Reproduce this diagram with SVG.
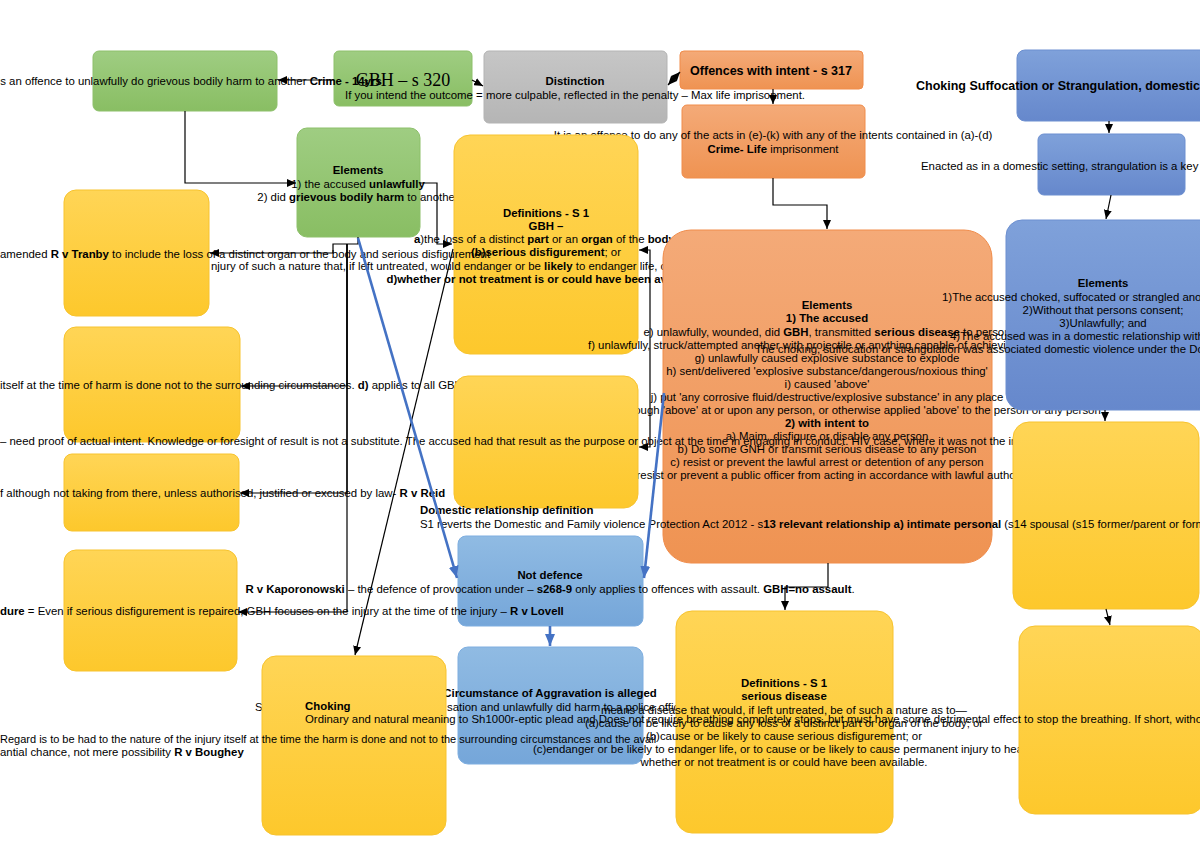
<svg xmlns="http://www.w3.org/2000/svg" width="1200" height="848" viewBox="0 0 1200 848">
<defs>
<linearGradient id="gG" x1="0" y1="0" x2="0" y2="1"><stop offset="0" stop-color="#9fcd82"/><stop offset="1" stop-color="#89be63"/></linearGradient>
<linearGradient id="gO" x1="0" y1="0" x2="0" y2="1"><stop offset="0" stop-color="#f4aa78"/><stop offset="1" stop-color="#ef9352"/></linearGradient>
<linearGradient id="gY" x1="0" y1="0" x2="0" y2="1"><stop offset="0" stop-color="#ffd556"/><stop offset="1" stop-color="#fdc82c"/></linearGradient>
<linearGradient id="gB" x1="0" y1="0" x2="0" y2="1"><stop offset="0" stop-color="#7fa1da"/><stop offset="1" stop-color="#6688cc"/></linearGradient>
<linearGradient id="gLB" x1="0" y1="0" x2="0" y2="1"><stop offset="0" stop-color="#90bbe3"/><stop offset="1" stop-color="#75a6d9"/></linearGradient>
<linearGradient id="gGr" x1="0" y1="0" x2="0" y2="1"><stop offset="0" stop-color="#c6c6c6"/><stop offset="1" stop-color="#b5b5b5"/></linearGradient>
<marker id="ah" viewBox="0 0 9 8" refX="9" refY="4" markerWidth="9" markerHeight="8" markerUnits="userSpaceOnUse" orient="auto-start-reverse"><path d="M0,0 L9,4 L0,8 z" fill="#000"/></marker>
<marker id="bh" viewBox="0 0 12 10" refX="12" refY="5" markerWidth="12" markerHeight="10" markerUnits="userSpaceOnUse" orient="auto-start-reverse"><path d="M0,0 L12,5 L0,10 z" fill="#4472c4"/></marker>
</defs>
<style>
.t{font-family:"Liberation Sans",Arial,sans-serif;font-size:11.4px;fill:#000}
.s{font-size:11px}
.m{text-anchor:middle}
.b{font-weight:bold}
.h{font-size:12.5px;font-weight:bold}
.g{fill:url(#gG);stroke:#8dc06b}
.o{fill:url(#gO);stroke:#f08c4b}
.y{fill:url(#gY);stroke:#f7c32e}
.bb{fill:url(#gB);stroke:#6c8fd0}
.lb{fill:url(#gLB);stroke:#7eaee0}
.gr{fill:url(#gGr);stroke:#b3b3b3}
.con{fill:none;stroke:#000;stroke-width:1.2}
.bl{fill:none;stroke:#4472c4;stroke-width:2.6}
</style>
<rect width="1200" height="848" fill="#fff"/>

<g id="node-gbh-s320">
<rect class="g" x="334" y="51" width="138" height="55" rx="5"/>
<text x="403" y="86" text-anchor="middle" style="font-family:'Liberation Serif','Times New Roman',serif;font-size:18px">GBH – s 320</text>
</g>

<g id="node-gbh-offence">
<rect class="g" x="93" y="51" width="184" height="60" rx="6"/>
<text class="t m" x="185" y="85">It is an offence to unlawfully do grievous bodily harm to another <tspan class="b">Crime - 14yrs</tspan></text>
</g>

<g id="node-distinction">
<rect class="gr" x="484" y="51" width="183" height="72" rx="5"/>
<text class="t m b" x="575" y="85">Distinction</text>
<text class="t m" x="575" y="99">If you intend the outcome = more culpable, reflected in the penalty – Max life imprisonment.</text>
</g>

<g id="node-offences-intent">
<rect class="o" x="680" y="51" width="183" height="38" rx="4"/>
<text class="t m h" x="771" y="75">Offences with intent - s 317</text>
</g>

<g id="node-crime-life">
<rect class="o" x="682" y="105" width="183" height="73" rx="5"/>
<text class="t m" x="773" y="139">It is an offence to do any of the acts in (e)-(k) with any of the intents contained in (a)-(d)</text>
<text class="t m" x="773" y="153"><tspan class="b">Crime- Life</tspan> imprisonment</text>
</g>

<g id="node-choking-dv">
<rect class="bb" x="1017" y="50" width="200" height="71" rx="8"/>
<text class="t h" x="916" y="90">Choking Suffocation or Strangulation, domestic</text>
</g>

<g id="node-enacted">
<rect class="bb" x="1038" y="134" width="147" height="61" rx="6"/>
<text class="t" x="921" y="170">Enacted as in a domestic setting, strangulation is a key</text>
</g>

<g id="node-elements-gbh">
<rect class="g" x="297" y="128" width="123" height="109" rx="10"/>
<text class="t m b" x="358" y="174">Elements</text>
<text class="t m" x="358" y="188">1) the accused <tspan class="b">unlawfully</tspan></text>
<text class="t m" x="358" y="201">2) did <tspan class="b">grievous bodily harm</tspan> to another</text>
</g>

<g id="node-def-gbh">
<rect class="y" x="454" y="135" width="184" height="219" rx="16"/>
<text class="t m b" x="546" y="217">Definitions - S 1</text>
<text class="t m b" x="546" y="230">GBH –</text>
<text class="t m" x="546" y="243"><tspan class="b">a</tspan>)the loss of a distinct <tspan class="b">part</tspan> or an <tspan class="b">organ</tspan> of the <tspan class="b">body</tspan>;</text>
<text class="t m" x="546" y="256"><tspan class="b">(b)serious disfigurement</tspan>; or</text>
<text class="t" x="211" y="270">njury of such a nature that, if left untreated, would endanger or be <tspan class="b">likely</tspan> to endanger life, or cause or be likely to cause permanent injury to health</text>
<text class="t m b" x="546" y="283">d)whether or not treatment is or could have been available.</text>
</g>

<g id="node-tranby">
<rect class="y" x="64" y="190" width="145" height="126" rx="12"/>
<text class="t" x="0" y="258">amended <tspan class="b">R v Tranby</tspan> to include the loss of a distinct organ or the body and serious disfigurement</text>
</g>

<g id="node-time-of-harm">
<rect class="y" x="64" y="327" width="176" height="115" rx="12"/>
<text class="t" x="0" y="389">itself at the time of harm is done not to the surrounding circumstances. <tspan class="b">d)</tspan> applies to all GBH</text>
</g>

<g id="node-elements-intent">
<rect class="o" x="663" y="230" width="329" height="333" rx="28"/>
<text class="t m b" x="827" y="309">Elements</text>
<text class="t m b" x="827" y="322">1) The accused</text>
<text class="t m" x="827" y="336">e) unlawfully, wounded, did <tspan class="b">GBH</tspan>, transmitted <tspan class="b">serious disease</tspan> to person</text>
<text class="t" x="588" y="349">f) unlawfully, struck/attempted another with projectile or anything capable of achieving</text>
<text class="t m" x="827" y="362">g) unlawfully caused explosive substance to explode</text>
<text class="t m" x="827" y="375">h) sent/delivered 'explosive substance/dangerous/noxious thing'</text>
<text class="t m" x="827" y="388">i) caused 'above'</text>
<text class="t m" x="827" y="401">j) put 'any corrosive fluid/destructive/explosive substance' in any place</text>
<text class="t m" x="827" y="414">k) cast/threw through 'above' at or upon any person, or otherwise applied 'above' to the person of any person</text>
<text class="t m b" x="827" y="427">2) with intent to</text>
<text class="t m" x="827" y="440">a) Maim, disfigure or disable any person</text>
<text class="t m" x="827" y="453">b) Do some GNH or transmit serious disease to any person</text>
<text class="t m" x="827" y="466">c) resist or prevent the lawful arrest or detention of any person</text>
<text class="t m" x="827" y="479">d) resist or prevent a public officer from acting in accordance with lawful authority</text>
</g>

<g id="node-elements-choking">
<rect class="bb" x="1006" y="220" width="210" height="190" rx="16"/>
<text class="t m b" x="1103" y="287">Elements</text>
<text class="t" x="942" y="301">1)The accused choked, suffocated or strangled another person; and</text>
<text class="t m" x="1103" y="314">2)Without that persons consent;</text>
<text class="t m" x="1103" y="327">3)Unlawfully; and</text>
<text class="t" x="950" y="340">4)The accused was in a domestic relationship with the other person; or</text>
<text class="t" x="755" y="353">The choking, suffocation or strangulation was associated domestic violence under the Domestic</text>
</g>

<g id="node-intent">
<rect class="y" x="454" y="376" width="184" height="132" rx="14"/>
<text class="t" x="0" y="445">– need proof of actual intent. Knowledge or foresight of result is not a substitute. The accused had that result as the purpose or object at the time in engaging in conduct. HIV case, where it was not the intention</text>
</g>

<g id="node-reid">
<rect class="y" x="64" y="454" width="175" height="77" rx="8"/>
<text class="t" x="0" y="497">f although not taking from there, unless authorised, justified or excused by law- <tspan class="b">R v Reid</tspan></text>
</g>

<g id="node-right-1">
<rect class="y" x="1013" y="422" width="186" height="187" rx="16"/>
</g>

<g id="node-not-defence">
<rect class="lb" x="458" y="536" width="185" height="90" rx="8"/>
<text class="t m b" x="550" y="579">Not defence</text>
<text class="t m" x="550" y="593"><tspan class="b">R v Kaporonowski</tspan> – the defence of provocation under – <tspan class="b">s268-9</tspan> only applies to offences with assault. <tspan class="b">GBH=no assault</tspan>.</text>
</g>

<g id="node-lovell">
<rect class="y" x="64" y="550" width="173" height="121" rx="12"/>
<text class="t" x="0" y="615"><tspan class="b">dure</tspan> = Even if serious disfigurement is repaired, GBH focuses on the injury at the time of the injury – <tspan class="b">R v Lovell</tspan></text>
</g>

<g id="node-aggravation">
<rect class="lb" x="458" y="647" width="185" height="117" rx="10"/>
<text class="t m b" x="550" y="697">Circumstance of Aggravation is alleged</text>
<text class="t" x="255" y="711">S</text>
<text class="t" x="447" y="711">sation and unlawfully did harm to a police officer</text>
</g>

<g id="node-def-disease">
<rect class="y" x="676" y="611" width="217" height="222" rx="16"/>
<text class="t m b" x="784" y="687">Definitions - S 1</text>
<text class="t m b" x="784" y="700">serious disease</text>
<text class="t m" x="784" y="714">means a disease that would, if left untreated, be of such a nature as to—</text>
<text class="t m" x="784" y="727">(a)cause or be likely to cause any loss of a distinct part or organ of the body; or</text>
<text class="t m" x="784" y="740">(b)cause or be likely to cause serious disfigurement; or</text>
<text class="t m" x="784" y="753">(c)endanger or be likely to endanger life, or to cause or be likely to cause permanent injury to health</text>
<text class="t m" x="784" y="766">whether or not treatment is or could have been available.</text>
</g>

<g id="node-right-2">
<rect class="y" x="1019" y="626" width="185" height="188" rx="16"/>
</g>

<g id="node-choking">
<rect class="y" x="262" y="656" width="184" height="179" rx="14"/>
<text class="t b" x="305" y="710">Choking</text>
<text class="t" x="305" y="723">Ordinary and natural meaning to Sh1000r-eptic plead and Does not require breathing completely stops, but must have some detrimental effect to stop the breathing. If short, without</text>
<text class="t s" x="0" y="743">Regard is to be had to the nature of the injury itself at the time the harm is done and not to the surrounding circumstances and the avail</text>
<text class="t" x="0" y="756">antial chance, not mere possibility <tspan class="b">R v Boughey</tspan></text>
</g>

<g id="node-domestic-definition">
<text class="t b" x="420" y="514">Domestic relationship definition</text>
<text class="t" x="420" y="528">S1 reverts the Domestic and Family violence Protection Act 2012 - s<tspan class="b">13 relevant relationship a) intimate personal</tspan> (s14 spousal (s15 former/parent or former</text>
</g>

<g id="connectors">
<path class="con" d="M334,80 H278" marker-end="url(#ah)"/>
<path class="con" d="M472,80 L483,86" marker-end="url(#ah)"/>
<path class="con" d="M668,85 L680,72" marker-start="url(#ah)" marker-end="url(#ah)"/>
<path class="con" d="M773,89 V104" marker-end="url(#ah)"/>
<path class="con" d="M773,178 V205 H827 V229" marker-end="url(#ah)"/>
<path class="con" d="M185,111 V183 H296" marker-end="url(#ah)"/>
<path class="con" d="M420,183 H437 V244 H452" marker-end="url(#ah)"/>
<path class="con" d="M358,237 V244 H333 V253 H210" marker-end="url(#ah)"/>
<path class="con" d="M347,244 V386 H241" marker-end="url(#ah)"/>
<path class="con" d="M347,244 V493 H240" marker-end="url(#ah)"/>
<path class="con" d="M347,244 V612 H238" marker-end="url(#ah)"/>
<path class="con" d="M453,249 L355,655" marker-end="url(#ah)"/>
<path class="con" d="M639,250 H650 V447 H639" marker-start="url(#ah)" marker-end="url(#ah)"/>
<path class="con" d="M828,563 V587 H785 V610" marker-end="url(#ah)"/>
<path class="con" d="M1109,121 V133" marker-end="url(#ah)"/>
<path class="con" d="M1111,195 L1106,219" marker-end="url(#ah)"/>
<path class="con" d="M1105,410 V421" marker-end="url(#ah)"/>
<path class="con" d="M1106,609 L1110,625" marker-end="url(#ah)"/>
<path class="bl" d="M358,238 L457,578" marker-end="url(#bh)"/>
<path class="bl" d="M664,393 L644,578" marker-end="url(#bh)"/>
<path class="bl" d="M550,626 V646" marker-end="url(#bh)"/>
</g>
</svg>
